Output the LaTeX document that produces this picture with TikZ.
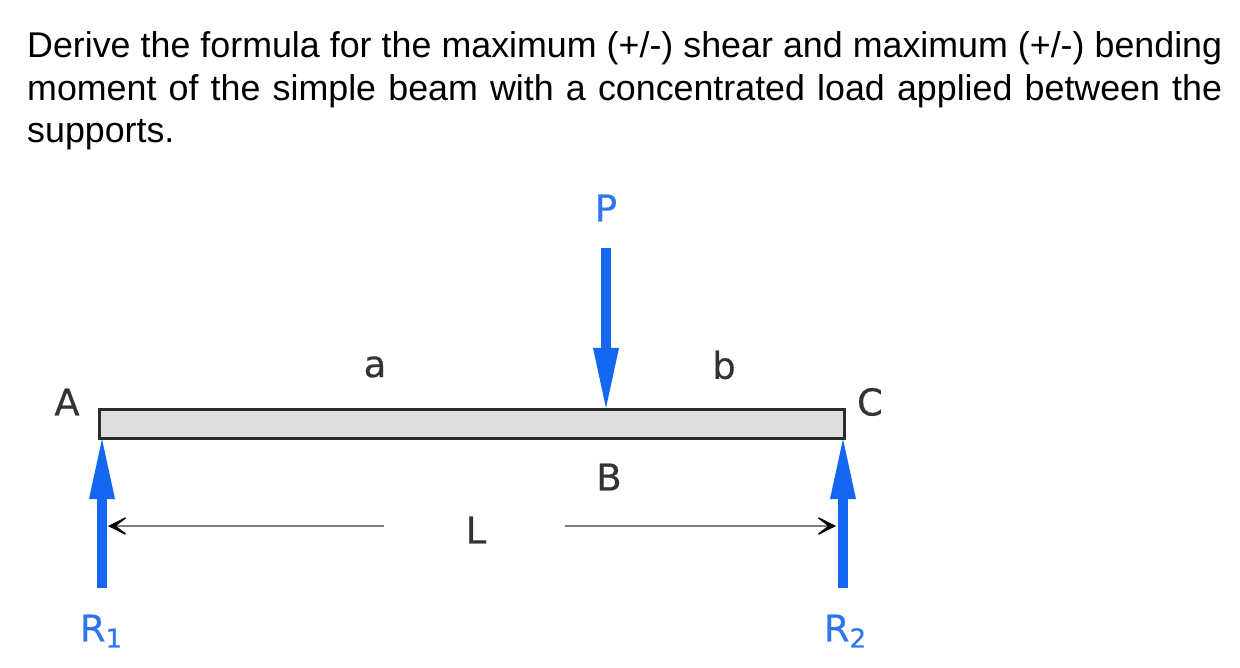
\documentclass[tikz,border=0pt]{standalone}
\usepackage{fontspec}
\setmainfont{Liberation Sans}
\newfontfamily\labelfont[FakeBold=0.4]{DejaVu Sans}
\usetikzlibrary{arrows.meta}
\definecolor{loadblue}{HTML}{1467F0}
\definecolor{labelblue}{HTML}{2F74F0}
\definecolor{beamfill}{HTML}{DDDDDD}
\definecolor{beamline}{HTML}{2B2B2B}
\definecolor{labelgrey}{HTML}{333333}
\newcommand{\fullline}[1]{\hbox to 1195pt{#1}}
\newcommand{\lowdigit}[1]{\raisebox{-6pt}{\fontsize{26}{26}\selectfont #1}}
\tikzset{
  x=1pt,y=-1pt,
  question/.style={inner sep=0pt,anchor=north west,align=left,font=\fontsize{35.8}{42.6}\selectfont},
  beam/.style={draw=beamline,line width=3pt,fill=beamfill,minimum width=745pt,minimum height=29pt,inner sep=0pt},
  blacklabel/.style={inner sep=0pt,text=labelgrey,font=\labelfont\fontsize{37}{37}\selectfont},
  bluelabel/.style={inner sep=0pt,text=labelblue,font=\labelfont\fontsize{37}{37}\selectfont},
  force/.style={draw=loadblue,line width=10pt,-{Triangle[length=60pt,width=26pt,line width=0pt,fill=loadblue]}},
  dimline/.style={draw=black!50,line width=2.5pt,-{Stealth[length=23pt,width=23pt,inset=15pt,line width=1.2pt,black]}},
}
\begin{document}
\begin{tikzpicture}
\useasboundingbox (0,0) rectangle (1240,668);
\node[question] (q) at (27,31.5) {\fullline{Derive the formula for the maximum (+/-) shear and maximum (+/-) bending}\\
\fullline{moment of the simple beam with a concentrated load applied between the}\\
supports.};
\node[beam] (beam) at (471.5,423.5) {};
\coordinate (ptop) at (606,248);
\coordinate (ptip) at (606,408);
\coordinate (r1bot) at (102,588);
\coordinate (r1tip) at (102,439);
\coordinate (r2bot) at (843,588);
\coordinate (r2tip) at (843,439);
\coordinate (dl1) at (384,526);
\coordinate (dl2) at (108,526);
\coordinate (dr1) at (565,526);
\coordinate (dr2) at (836,526);
\draw[force] (ptop) -- (ptip);
\draw[force] (r1bot) -- (r1tip);
\draw[force] (r2bot) -- (r2tip);
\draw[dimline] (dl1) -- (dl2);
\draw[dimline] (dr1) -- (dr2);
\node[bluelabel] (P) at (606,208) {P};
\node[blacklabel] (a) at (375,367) {a};
\node[blacklabel] (b) at (724,365) {b};
\node[blacklabel] (A) at (67,402) {A};
\node[blacklabel] (C) at (870,402) {C};
\node[blacklabel] (B) at (609,477) {B};
\node[blacklabel] (L) at (476,530) {L};
\node[bluelabel] (R1) at (101,631) {R\lowdigit{1}};
\node[bluelabel] (R2) at (845,631) {R\lowdigit{2}};
\end{tikzpicture}
\end{document}
